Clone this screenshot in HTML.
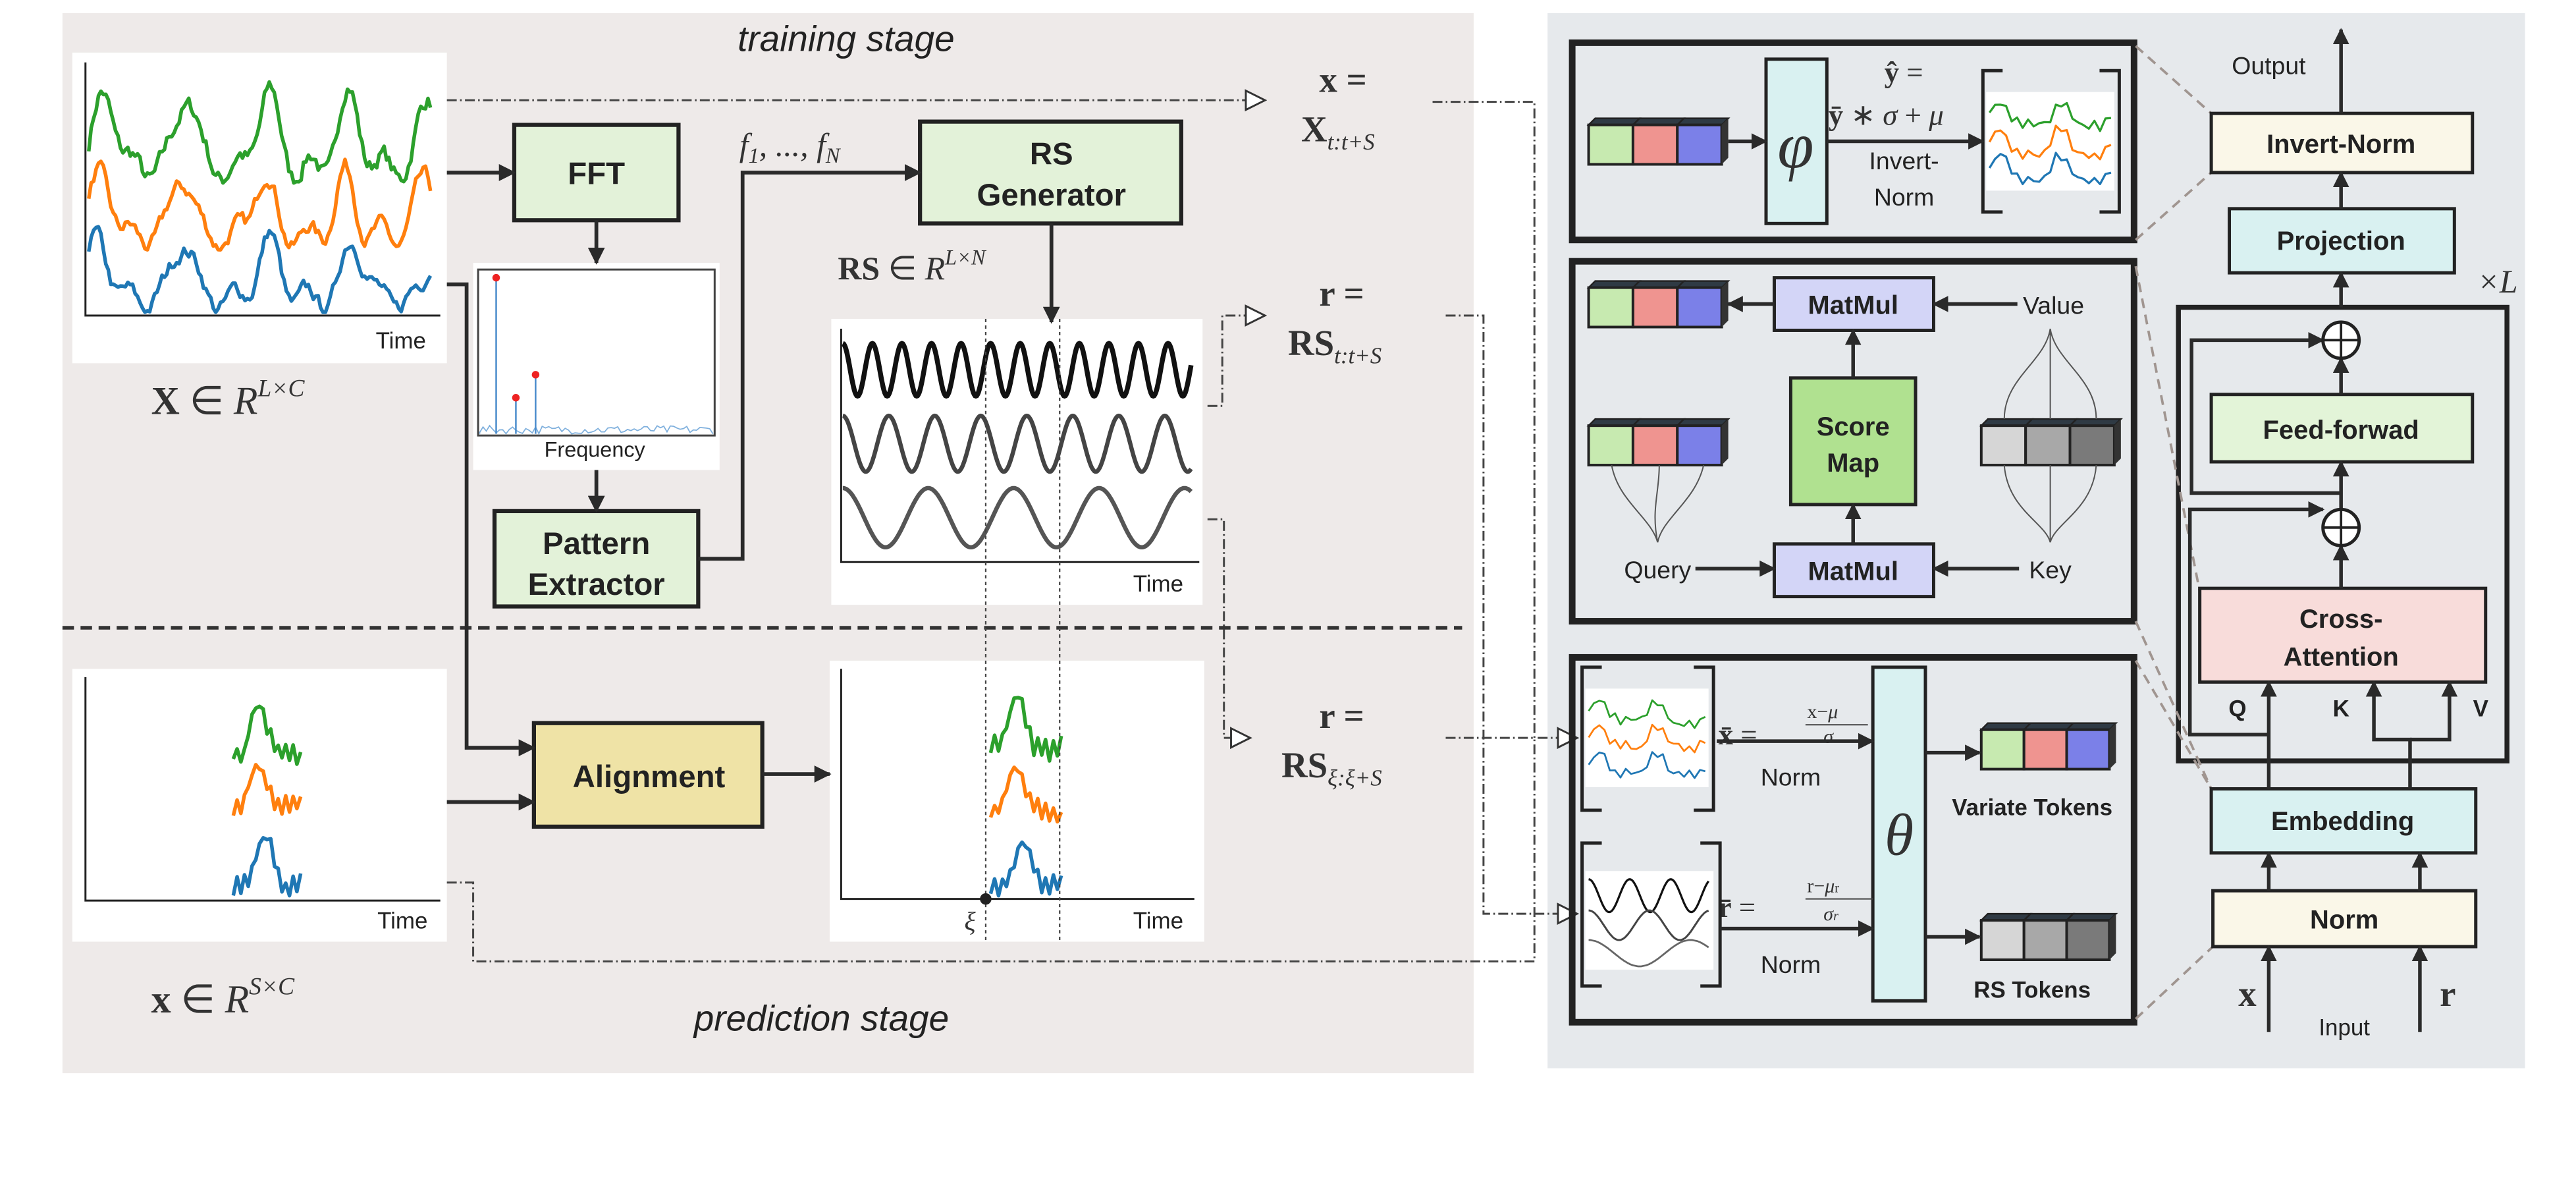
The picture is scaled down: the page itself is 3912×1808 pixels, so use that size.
<!DOCTYPE html>
<html><head><meta charset="utf-8"><style>
html,body{margin:0;padding:0;background:#fff;}
svg{display:block;}
.b{font-family:"Liberation Sans",sans-serif;font-weight:bold;fill:#222;text-anchor:middle;}
.n{font-family:"Liberation Sans",sans-serif;fill:#222;text-anchor:middle;}
.m{font-family:"Liberation Serif",serif;fill:#333;}
</style></head><body>
<svg id="s" width="3912" height="1808" viewBox="0 0 1568 724.7" xmlns="http://www.w3.org/2000/svg">
<defs>
<marker id="ah" viewBox="0 0 10 10" refX="9" refY="5" markerWidth="4.5" markerHeight="4.5" orient="auto"><path d="M0,0L10,5L0,10z" fill="#2a2a2a"/></marker>
<marker id="oh" viewBox="0 0 12 12" refX="11" refY="6" markerWidth="14" markerHeight="14" markerUnits="userSpaceOnUse" orient="auto"><path d="M1,1L11,6L1,11z" fill="#fff" stroke="#333" stroke-width="1"/></marker>
</defs>
<rect x="38" y="8" width="859" height="645" fill="#eeeae9"/>
<rect x="942" y="8" width="595" height="642" fill="#e6e9ec"/>
<text x="515" y="31" class="n" font-size="22" font-style="italic" fill="#333">training stage</text>
<text x="500" y="627" class="n" font-size="22" font-style="italic" fill="#333">prediction stage</text>
<line x1="38" y1="382" x2="890" y2="382" stroke="#333" stroke-width="2.2" stroke-dasharray="7,4"/>

<rect x="44" y="32" width="228" height="189" fill="#fff"/>
<rect x="288" y="160" width="150" height="126" fill="#fff"/>
<rect x="506" y="194" width="226" height="174" fill="#fff"/>
<rect x="44" y="407" width="228" height="166" fill="#fff"/>
<rect x="505" y="402" width="228" height="171" fill="#fff"/>
<g stroke="#222" stroke-width="1.2" fill="none">
<path d="M52,38V192H268"/><path d="M512,200V342H730"/><path d="M52,412V548H268"/><path d="M512,407V547H727"/>
</g>
<g class="n" font-size="14"><text x="244" y="212">Time</text><text x="705" y="360">Time</text><text x="245" y="565">Time</text><text x="705" y="565">Time</text><text x="362" y="278" font-size="13">Frequency</text></g>
<rect x="291" y="164" width="144" height="101" fill="none" stroke="#444" stroke-width="1.2"/>
<g id="curves"></g>
<g stroke="#4a8ccc" stroke-width="1" fill="none">
<path d="M302,264V169"/><path d="M314,264V242"/><path d="M326,264V228"/>
</g>
<circle cx="302" cy="169" r="2.3" fill="#e22"/><circle cx="314" cy="242" r="2.3" fill="#e22"/><circle cx="326" cy="228" r="2.3" fill="#e22"/>
<g stroke="#444" stroke-width="0.9" stroke-dasharray="2,2"><line x1="600" y1="194" x2="600" y2="573"/><line x1="645" y1="194" x2="645" y2="573"/></g>
<circle cx="600" cy="547" r="3.5" fill="#222"/>
<text x="587" y="566" class="m" font-size="16" font-style="italic">ξ</text>

<g stroke="#222" stroke-width="2.5">
<rect x="313" y="76" width="100" height="58" fill="#e3f2d9"/>
<rect x="301" y="311" width="124" height="58" fill="#e3f2d9"/>
<rect x="560" y="74" width="159" height="62" fill="#e3f2d9"/>
<rect x="325" y="440" width="139" height="63" fill="#efe3a6"/>
</g>
<g class="b" font-size="19"><text x="363" y="112">FFT</text><text x="363" y="337">Pattern</text><text x="363" y="362">Extractor</text><text x="640" y="100">RS</text><text x="640" y="125">Generator</text><text x="395" y="479">Alignment</text></g>

<g stroke="#2a2a2a" stroke-width="2.3" fill="none" marker-end="url(#ah)">
<path d="M272,105H313"/><path d="M363,134V160"/><path d="M363,286V311"/>
<path d="M425,340H452V105H560"/><path d="M640,136V196"/>
<path d="M272,173H284V455H325"/><path d="M272,488H325"/><path d="M464,471H505"/>
</g>
<text x="450" y="95" class="m" font-size="20" font-style="italic">f<tspan font-size="13" dy="4">1</tspan><tspan dy="-4">, ..., f</tspan><tspan font-size="13" dy="4">N</tspan></text>
<text x="510" y="170" class="m" font-size="20"><tspan font-weight="bold">RS</tspan> ∈ <tspan font-style="italic">R</tspan><tspan font-size="13" dy="-9" font-style="italic">L×N</tspan></text>
<text x="92" y="252" class="m" font-size="24"><tspan font-weight="bold">X</tspan> ∈ <tspan font-style="italic">R</tspan><tspan font-size="15" dy="-11" font-style="italic">L×C</tspan></text>
<text x="92" y="616" class="m" font-size="24"><tspan font-weight="bold">x</tspan> ∈ <tspan font-style="italic">R</tspan><tspan font-size="15" dy="-11" font-style="italic">S×C</tspan></text>
<g class="m" font-size="22" font-weight="bold">
<text x="803" y="56">x =</text><text x="792" y="86">X<tspan font-size="14" font-style="italic" font-weight="normal" dy="5">t:t+S</tspan></text>
<text x="803" y="186">r =</text><text x="784" y="216">RS<tspan font-size="14" font-style="italic" font-weight="normal" dy="5">t:t+S</tspan></text>
<text x="803" y="443">r =</text><text x="780" y="473">RS<tspan font-size="14" font-style="italic" font-weight="normal" dy="5">ξ:ξ+S</tspan></text>
</g>
<g stroke="#444" stroke-width="1.2" fill="none" stroke-dasharray="6,2,1,2">
<path d="M272,61H770" marker-end="url(#oh)"/>
<path d="M735,247H744V192H770" marker-end="url(#oh)"/>
<path d="M735,316H745V449H761" marker-end="url(#oh)"/>
<path d="M872,62H934V449H960" marker-end="url(#oh)"/>
<path d="M880,192H903V556H960" marker-end="url(#oh)"/>
<path d="M880,449H934"/>
<path d="M272,537H288V585H934V449"/>
</g>

<g stroke="#222" stroke-width="4" fill="none">
<rect x="957" y="26" width="342" height="120"/>
<rect x="957" y="159" width="342" height="219"/>
<rect x="957" y="400" width="342" height="222"/>
<rect x="1326" y="187" width="200" height="276" stroke-width="3"/>
</g>
<g stroke="#a09590" stroke-width="1.5" stroke-dasharray="6,4" fill="none">
<path d="M1300,28L1346,69"/><path d="M1300,146L1346,105"/>
<path d="M1300,162L1339,360"/><path d="M1300,378L1346,480"/>
<path d="M1300,402L1346,480"/><path d="M1300,620L1347,576"/>
</g>
<g stroke="#222" stroke-width="2">
<rect x="1075" y="36" width="37" height="100" fill="#d9f1f1"/>
<rect x="1140" y="406" width="32" height="203" fill="#d9f1f1"/>
<rect x="1080" y="169" width="97" height="32" fill="#d3d5f7"/>
<rect x="1080" y="331" width="97" height="32" fill="#d3d5f7"/>
<rect x="1090" y="230" width="76" height="77" fill="#b0e190"/>
<rect x="1346" y="69" width="159" height="36" fill="#faf7e8"/>
<rect x="1357" y="127" width="137" height="39" fill="#d9f1f1"/>
<rect x="1346" y="240" width="159" height="41" fill="#e3f4d8"/>
<rect x="1339" y="358" width="174" height="57" fill="#f8dcda"/>
<rect x="1346" y="480" width="161" height="39" fill="#d9f1f1"/>
<rect x="1347" y="542" width="160" height="34" fill="#faf7e8"/>
</g>
<text x="1093" y="102" class="m" font-size="40" font-style="italic" text-anchor="middle">φ</text>
<text x="1156" y="520" class="m" font-size="36" font-style="italic" text-anchor="middle">θ</text>
<g class="b" font-size="16">
<text x="1128" y="191">MatMul</text><text x="1128" y="353">MatMul</text>
<text x="1128" y="265">Score</text><text x="1128" y="287">Map</text>
<text x="1425" y="93">Invert-Norm</text><text x="1425" y="152">Projection</text><text x="1425" y="267">Feed-forwad</text>
<text x="1425" y="382">Cross-</text><text x="1425" y="405">Attention</text>
<text x="1426" y="505">Embedding</text><text x="1427" y="565">Norm</text>
<text x="1362" y="436" font-size="14">Q</text><text x="1425" y="436" font-size="14">K</text><text x="1510" y="436" font-size="14">V</text>
<text x="1237" y="496" font-size="14">Variate Tokens</text><text x="1237" y="607" font-size="14">RS Tokens</text>
</g>
<g class="n" font-size="15">
<text x="1381" y="45">Output</text><text x="1427" y="630" font-size="14">Input</text>
<text x="1159" y="103">Invert-</text><text x="1159" y="125">Norm</text>
<text x="1250" y="191">Value</text><text x="1009" y="352">Query</text><text x="1248" y="352">Key</text>
<text x="1090" y="478">Norm</text><text x="1090" y="592">Norm</text>
</g>
<g class="m" font-size="18">
<text x="1147" y="50"><tspan font-weight="bold">ŷ</tspan> =</text>
<text x="1113" y="76"><tspan font-weight="bold">ȳ</tspan> ∗ <tspan font-style="italic">σ</tspan> + <tspan font-style="italic">μ</tspan></text>
<text x="1046" y="453"><tspan font-weight="bold">x̄</tspan> =</text>
<text x="1046" y="558"><tspan font-weight="bold">r̄</tspan> =</text>
</g>
<g class="m" font-size="12">
<text x="1100" y="437">x−<tspan font-style="italic">μ</tspan></text><line x1="1099" y1="441" x2="1137" y2="441" stroke="#444" stroke-width="0.8"/><text x="1110" y="452" font-style="italic">σ</text>
<text x="1100" y="543">r−<tspan font-style="italic">μ</tspan><tspan font-size="8">r</tspan></text><line x1="1099" y1="547" x2="1140" y2="547" stroke="#444" stroke-width="0.8"/><text x="1110" y="560" font-style="italic">σ<tspan font-size="8">r</tspan></text>
</g>
<text x="1508" y="178" class="m" font-size="20" font-style="italic">×L</text>
<rect x="1209" y="56" width="78" height="60" fill="#fff"/>
<rect x="965" y="419" width="75" height="60" fill="#fff"/>
<rect x="965" y="530" width="78" height="60" fill="#fff"/>
<g id="curves2"></g>
<g stroke="#222" stroke-width="2" fill="none">
<path d="M1219,43H1207V129H1219"/><path d="M1278,43H1290V129H1278"/>
<path d="M975,406H963V493H975"/><path d="M1031,406H1043V493H1031"/>
<path d="M975,513H963V600H975"/><path d="M1035,513H1047V600H1035"/>
</g>
<g id="tok"></g>
<g stroke="#2a2a2a" stroke-width="2.2" fill="none" marker-end="url(#ah)">
<path d="M1052,86H1075"/><path d="M1112,86H1207"/>
<path d="M1080,185H1052"/><path d="M1228,185H1177"/><path d="M1128,230V201"/>
<path d="M1032,346H1080"/><path d="M1229,346H1177"/><path d="M1128,331V307"/>
<path d="M1045,451H1140"/><path d="M1047,565H1140"/>
<path d="M1172,458H1205"/><path d="M1172,570H1205"/>
<path d="M1425,69V18"/><path d="M1425,127V105"/><path d="M1425,187V166"/>
<path d="M1425,240V218"/><path d="M1425,358V332"/><path d="M1425,310V281"/>
<path d="M1381,480V415"/><path d="M1467,480V450H1445V415"/><path d="M1467,450H1491V415"/>
<path d="M1381,542V519"/><path d="M1473,542V519"/>
<path d="M1381,628V576"/><path d="M1473,628V576"/>
<path d="M1381,447H1333V310H1414"/><path d="M1425,300H1334V207H1414"/>
</g>
<g stroke="#222" stroke-width="2" fill="#fff"><circle cx="1425" cy="207" r="11"/><circle cx="1425" cy="321" r="11"/></g>
<g stroke="#222" stroke-width="1.5"><path d="M1414,207H1436M1425,196V218M1414,321H1436M1425,310V332"/></g>
<g stroke="#555" stroke-width="0.8" fill="none">
<path d="M1010,283C1010,300 1005,310 1009,330M981,283C985,305 1005,315 1009,330M1037,283C1032,305 1012,315 1009,330"/>
<path d="M1248,255V200M1220,255C1220,230 1245,220 1248,200M1276,255C1276,230 1251,220 1248,200"/>
<path d="M1248,283V330M1220,283C1222,310 1245,318 1248,330M1276,283C1274,310 1251,318 1248,330"/>
</g>
<text x="1368" y="612" class="m" font-size="22" font-weight="bold" text-anchor="middle">x</text>
<text x="1490" y="612" class="m" font-size="22" font-weight="bold" text-anchor="middle">r</text>
</svg>
<script>
(function(){
var NS="http://www.w3.org/2000/svg";
function el(p,tag,a){var e=document.createElementNS(NS,tag);for(var k in a)e.setAttribute(k,a[k]);p.appendChild(e);return e;}
var seed=7;function rnd(){seed=(seed*16807)%2147483647;return seed/2147483647;}
var C=document.getElementById('curves'),C2=document.getElementById('curves2');
function noisy(P,x0,x1,y0,y1,col,n,w,per,ph){var d="",v=0;for(var i=0;i<=n;i++){var t=i/n;var x=x0+(x1-x0)*t;
var s=Math.sin(t*Math.PI*2*per+ph);var pk=Math.pow((s+1)/2,3);v=0.6*v+0.4*(rnd()-0.5);
var y=y1-(y1-y0)*(0.15+0.65*pk+0.35*v+0.12*Math.sin(t*60+ph));y=Math.max(y0,Math.min(y1,y));
d+=(i?"L":"M")+x.toFixed(1)+","+y.toFixed(1);}el(P,'path',{d:d,stroke:col,'stroke-width':w,fill:'none','stroke-linejoin':'round'});}
noisy(C,54,262,44,112,"#2ca02c",140,2.2,4.2,0.3);
noisy(C,54,262,96,152,"#ff7f0e",140,2.2,4.2,0.6);
noisy(C,54,262,136,190,"#1f77b4",140,2.2,4.0,0.9);
noisy(C,142,183,419,465,"#2ca02c",18,2.2,1.1,-1);
noisy(C,142,183,456,500,"#ff7f0e",18,2.2,1.1,-1);
noisy(C,142,183,503,545,"#1f77b4",18,2.2,1.0,-1.4);
noisy(C,603,646,414,463,"#2ca02c",18,2.2,1.1,-1);
noisy(C,603,646,456,500,"#ff7f0e",18,2.2,1.1,-1);
noisy(C,603,646,503,545,"#1f77b4",18,2.2,1.0,-1.4);
noisy(C2,1211,1285,58,80,"#2ca02c",22,1.3,2,0.5);
noisy(C2,1211,1285,74,98,"#ff7f0e",22,1.3,2,0.5);
noisy(C2,1211,1285,90,112,"#1f77b4",22,1.3,2,0.5);
noisy(C2,967,1038,421,443,"#2ca02c",22,1.1,2,0.5);
noisy(C2,967,1038,437,458,"#ff7f0e",22,1.1,2,0.5);
noisy(C2,967,1038,453,475,"#1f77b4",22,1.1,2,0.5);
var d="M292,264";for(var x=292;x<=434;x+=2){d+="L"+x+","+(264-rnd()*5).toFixed(1);}el(C,'path',{d:d,stroke:'#7fb0dd','stroke-width':0.7,fill:'none'});
function sine(P,x0,x1,yc,a,per,col,w,ph){var d="";for(var x=x0;x<=x1;x+=0.5){var y=yc-a*Math.cos((x-x0)/per*2*Math.PI+ph);d+=(x==x0?"M":"L")+x+","+y.toFixed(1);}el(P,'path',{d:d,stroke:col,'stroke-width':w,fill:'none'});}
sine(C,513,725,225,16,18,"#111",3,0);sine(C,513,725,270,17,28,"#444",2.6,0);sine(C,513,725,315,18,52,"#555",2.6,0);
sine(C2,967,1040,545,10,25,"#111",1.3,0);sine(C2,967,1040,563,9,37,"#444",1.2,0);sine(C2,967,1040,580,8,62,"#666",1.1,0);
var T=document.getElementById('tok');
function tok(x,y,cols,w,h){for(var i=0;i<3;i++){var xx=x+i*w;
el(T,'path',{d:"M"+xx+","+(y+4)+"L"+(xx+4)+","+y+"L"+(xx+w+4)+","+y+"L"+(xx+w)+","+(y+4)+"z",fill:'#2f3a44',stroke:'#222','stroke-width':1});
el(T,'rect',{x:xx,y:y+4,width:w,height:h,fill:cols[i],stroke:'#222','stroke-width':1.6});}
el(T,'path',{d:"M"+(x+3*w)+","+(y+4)+"L"+(x+3*w+4)+","+y+"V"+(y+h)+"L"+(x+3*w)+","+(y+h+4)+"z",fill:'#333'});}
var c=['#c7eab0','#ef9490','#7b80e8'],g=['#d6d6d6','#a8a8a8','#7a7a7a'];
tok(967,72,c,27,24);tok(967,171,c,27,24);tok(967,255,c,27,24);tok(1206,255,g,27,24);
tok(1206,440,c,26,24);tok(1206,556,g,26,24);
})();
</script>
</body></html>
